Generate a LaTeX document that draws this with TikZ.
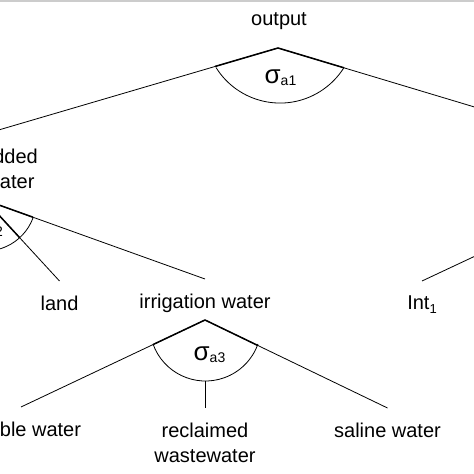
\documentclass[tikz,border=0pt]{standalone}
\usepackage{fontspec}
\setmainfont{Liberation Sans}

\newcommand{\agg}[1]{{\fontsize{26}{26}\selectfont σ}\raisebox{-2pt}{\fontsize{14}{14}\selectfont #1}}

\begin{document}
\begin{tikzpicture}[x=1pt,y=1pt,
    every node/.style={font=\fontsize{20}{25}\selectfont},
    lbl/.style={anchor=north, inner ysep=14.5pt, align=center},
    sig/.style={anchor=base, inner sep=0pt},
    branch/.style={line width=0.8pt},
    thickseg/.style={line width=1.5pt}]

    \useasboundingbox (0,0) rectangle (474,474);
    \clip (0,0) rectangle (474,474);
    \fill[gray!40] (0,471.6) rectangle (474,474);

    % Apexes
    \coordinate (a1) at (278,426);
    \coordinate (a2) at (-15,274);
    \coordinate (a3) at (205,154);
    \coordinate (a4) at (584,269);
    \coordinate (r1) at (571,338);
    \coordinate (b3) at (205,93);

    % Labels
    \node[anchor=base] (out) at (279,448) {output};
    \node[lbl] (add) at (10,340) {added\\water};
    \node[lbl] (land) at (59.5,193) {land};
    \node[lbl] (irr) at (205,195) {irrigation water};
    \node[lbl] (int) at (422,193) {Int\raisebox{-4pt}{\fontsize{13}{13}\selectfont 1}};
    \node[lbl] (pot) at (21,67) {potable water};
    \node[lbl] (rec) at (205,66) {reclaimed\\wastewater};
    \node[lbl] (sal) at (387.5,66) {saline water};

    % Operators
    \node[sig] (s1) at (280.5,390) {\agg{a1}};
    \node[sig] (s2) at (-13,239) {\agg{a2}};
    \node[sig] (s3) at (209.5,113) {\agg{a3}};

    \draw[branch] (216,406.5) arc[start angle=211.9, end angle=328.1, radius=75.4pt];
    \draw[branch] (33,256) arc[start angle=-20.6, end angle=-160, radius=51pt];
    \draw[branch] (153,130) arc[start angle=199.6, end angle=340.4, radius=55.7pt];

    % Branches
    \draw[branch] (a1) -- (a2 |- add.north);
    \draw[branch] (a1) -- (r1);
    \draw[branch] (a2) -- (land.north);
    \draw[branch] (a2) -- (irr.north);
    \draw[branch] (a4) -- (int.north);
    \draw[branch] (a3) -- (pot.north);
    \draw[branch] (a3) -- (sal.north);
    \draw[branch] (b3) -- (rec.north);

    \begin{scope}
        \clip (280,446.4) circle[radius=75.4pt];
        \draw[thickseg] (a1) -- (a2 |- add.north);
        \draw[thickseg] (a1) -- (r1);
    \end{scope}
    \begin{scope}
        \clip (a2) circle[radius=51pt];
        \draw[thickseg] (a2) -- (land.north);
        \draw[thickseg] (a2) -- (irr.north);
    \end{scope}
    \begin{scope}
        \clip (205.5,148.7) circle[radius=55.7pt];
        \draw[thickseg] (a3) -- (pot.north);
        \draw[thickseg] (a3) -- (sal.north);
    \end{scope}

\end{tikzpicture}
\end{document}
